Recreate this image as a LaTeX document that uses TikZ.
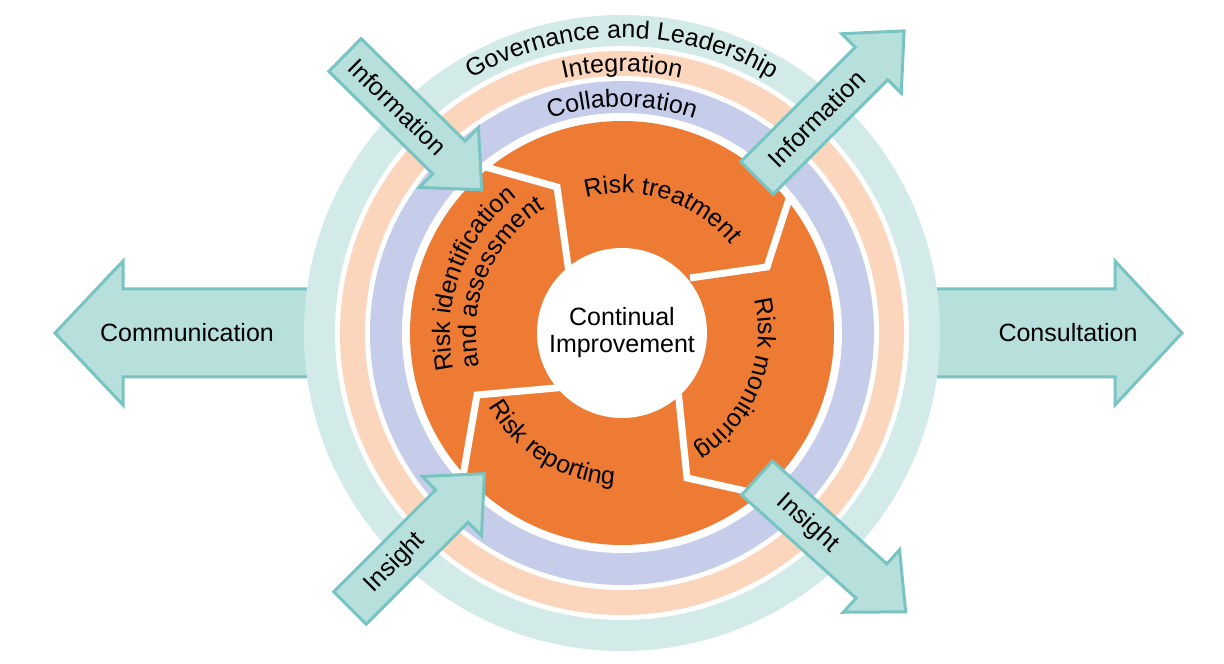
\documentclass[tikz,border=0pt]{standalone}
\usepackage{fontspec}
\setmainfont{Liberation Sans}
\usetikzlibrary{decorations.text}
\definecolor{govteal}{HTML}{D3EBE8}
\definecolor{intpeach}{HTML}{FBD5BC}
\definecolor{colblue}{HTML}{C6CDEA}
\definecolor{riskorange}{HTML}{EE7B33}
\definecolor{arrowfill}{HTML}{B7DFDC}
\definecolor{arrowline}{HTML}{78C4C2}
\newcommand\bigsize{\fontsize{25}{27}\selectfont}
\tikzset{
  bigfont/.style={font=\bigsize},
  arrowbody/.style={fill=arrowfill, draw=arrowline, line width=3pt, line join=miter},
  arrowlabel/.style={rotate=#1, font=\fontsize{25}{27}\selectfont},
  ringtext/.style={decorate, decoration={text along path, text align=center, text={|\bigsize|#1}}},
}
% fat arrow: tail, angle, length, shaft half width, head half width, head length, label
\newcommand\fatarrow[7]{%
  \begin{scope}[shift={(#1)}, rotate=#2]
    \draw[arrowbody] (0,-#4) -- (#3-#6,-#4) -- (#3-#6,-#5) -- (#3,0)
      -- (#3-#6,#5) -- (#3-#6,#4) -- (0,#4) -- cycle;
    #7
  \end{scope}}
\begin{document}
\begin{tikzpicture}[x=1pt, y=1pt, bigfont]
  \useasboundingbox (0,0) rectangle (1224,664);
  \coordinate (c) at (622,331);

  % side arrows
  \fatarrow{310,331}{180}{255}{44}{72}{68}{}
  \fatarrow{935,331}{0}{247}{44}{72}{67}{}
  \node (comm) at (187,331) {Communication};
  \node (cons) at (1068,331) {Consultation};

  % rings
  \fill[govteal] (c) circle (318);
  \fill[white] (c) circle (287);
  \fill[intpeach] (c) circle (282);
  \fill[white] (c) circle (257);
  \fill[colblue] (c) circle (252);
  \fill[white] (c) circle (220);
  \fill[riskorange] (c) circle (212);
  \fill[white] (c) circle (85);

  % ring labels
  \path[ringtext={Governance and Leadership}]
    (c) ++(150:295) arc[start angle=150, end angle=30, radius=295];
  \path[ringtext={Integration}]
    (c) ++(130:261) arc[start angle=130, end angle=50, radius=261];
  \path[ringtext={Collaboration}]
    (c) ++(130:226) arc[start angle=130, end angle=50, radius=226];

  % separators
  \coordinate (s1a) at (482,498); \coordinate (s1b) at (557,477); \coordinate (s1c) at (570,384);
  \coordinate (s2a) at (790,468); \coordinate (s2b) at (767,397); \coordinate (s2c) at (690,386);
  \coordinate (s3a) at (677,284); \coordinate (s3b) at (687,186); \coordinate (s3c) at (768,168);
  \coordinate (s4a) at (462,182); \coordinate (s4b) at (477,269); \coordinate (s4c) at (567,277);
  \draw[white, line width=7pt] (s1a) -- (s1b) -- (s1c);
  \draw[white, line width=7pt] (s2a) -- (s2b) -- (s2c);
  \draw[white, line width=7pt] (s3a) -- (s3b) -- (s3c);
  \draw[white, line width=7pt] (s4a) -- (s4b) -- (s4c);

  % segment labels
  \path[ringtext={Risk treatment}]
    (c) ++(117:140) arc[start angle=117, end angle=27, radius=140];
  \path[ringtext={Risk monitoring}]
    (c) ++(28:136) arc[start angle=28, end angle=-72, radius=136];
  \path[ringtext={Risk reporting}]
    (c) ++(190:152) arc[start angle=190, end angle=286, radius=152];
  \path[ringtext={Risk identification}]
    (c) ++(212:172) arc[start angle=212, end angle=108, radius=172];
  \path[ringtext={and assessment}]
    (c) ++(215:146) arc[start angle=215, end angle=100, radius=146];
  \node[align=center] (ci) at (c) {Continual\\Improvement};

  % diagonal arrows
  \fatarrow{345,609}{-44.6}{192}{23}{42}{46}{\node[arrowlabel=-44.6] (info1) at (74,0) {Information};}
  \fatarrow{757,486}{45}{208}{23}{42}{46}{\node[arrowlabel=45] (info2) at (84,0) {Information};}
  \fatarrow{350,56}{45}{190}{23}{42}{46}{\node[arrowlabel=45] (ins1) at (64,0) {Insight};}
  \fatarrow{757,186}{-42}{200}{23}{42}{46}{\node[arrowlabel=-42] (ins2) at (68,0) {Insight};}
\end{tikzpicture}
\end{document}
